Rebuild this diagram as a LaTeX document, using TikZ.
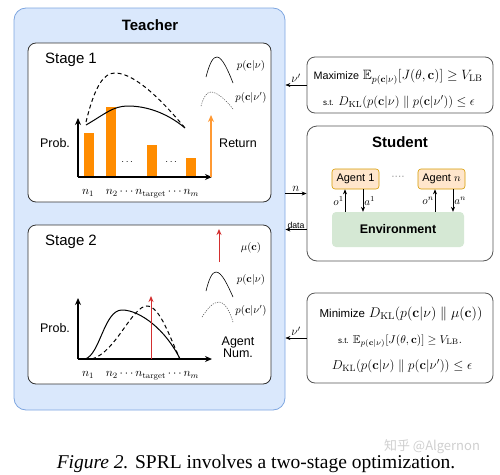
\RequirePackage{fix-cm}
\documentclass[tikz,border=0pt]{standalone}
\usepackage{amsmath,amssymb}
\usepackage[no-math]{fontspec}
\setmainfont{Liberation Sans}
\newfontfamily\capfont{Liberation Serif}
\newfontfamily\cjk{Noto Sans CJK SC}
\usepackage{xcolor}
\usepackage{tikz}
\usetikzlibrary{arrows.meta}
\definecolor{teachbg}{HTML}{DAE8FC}
\definecolor{teachline}{HTML}{7EA6E0}
\definecolor{stageline}{HTML}{333333}
\definecolor{boxline}{HTML}{555555}
\definecolor{barfill}{HTML}{FF8C00}
\definecolor{retline}{HTML}{FF9933}
\definecolor{mured}{HTML}{D32F2F}
\definecolor{agentbg}{HTML}{FFE6CC}
\definecolor{agentline}{HTML}{D79B00}
\definecolor{envbg}{HTML}{D5E8D4}
\definecolor{wmark}{HTML}{CFCFCF}
\tikzset{
  teach/.style={draw=teachline, fill=teachbg, line width=0.8pt, rounded corners=12pt},
  stagebox/.style={draw=stageline, fill=white, line width=0.8pt, rounded corners=8pt, minimum width=243pt, minimum height=159pt},
  cons/.style={draw=boxline, fill=white, line width=0.8pt, rounded corners=8pt, minimum width=186pt},
  agent/.style={draw=agentline, fill=agentbg, line width=0.6pt, rounded corners=3pt, minimum width=47pt, minimum height=20pt, inner sep=0pt, font=\fontsize{11}{13}\selectfont},
  env/.style={fill=envbg, rounded corners=4pt, minimum width=132pt, minimum height=35pt, font=\bfseries\fontsize{12.5}{14}\selectfont},
  axis/.style={draw=black, line width=1.4pt, -{Stealth[length=7pt,width=6pt]}},
  curve/.style={draw=black, line width=1pt},
  dcurve/.style={curve, dash pattern=on 4pt off 3pt},
  lcurve/.style={draw=black, line width=0.6pt},
  ldot/.style={draw=black!70, line width=0.5pt, dash pattern=on 1.2pt off 1.2pt},
  orangebar/.style={fill=barfill},
  retarrow/.style={draw=retline, line width=1.2pt, -{Stealth[length=7pt,width=6pt]}},
  muarrow/.style={draw=mured, line width=1pt, -{Stealth[length=6pt,width=5pt]}},
  link/.style={draw=black, line width=0.6pt, -{Stealth[length=5pt,width=4pt]}},
  title/.style={font=\bfseries\fontsize{15}{17}\selectfont},
  stagelab/.style={font=\fontsize{15}{17}\selectfont},
  lab/.style={font=\fontsize{12.5}{14}\selectfont},
  labm/.style={font=\fontsize{10.7}{12}\selectfont},
  xlab/.style={font=\fontsize{11.8}{13}\selectfont},
  arlab/.style={font=\fontsize{11}{12}\selectfont, inner sep=1pt},
  linklab/.style={font=\fontsize{12}{13}\selectfont, above, inner sep=2pt},
}
\newcommand{\pc}[1]{p(\mathbf{c}|#1)}
\newcommand{\txt}[2]{{\fontsize{#1}{#1}\selectfont #2}}

\begin{document}
\begin{tikzpicture}[x=1pt, y=-1pt]
  \useasboundingbox (0,0) rectangle (500,474);
  % teacher side
  \node[teach, minimum width=271pt, minimum height=402pt] (teacher) at (149.5,209) {};
  \node[title] (teachtitle) at (150,25) {Teacher};
  \node[stagebox] (stage1) at (149.5,122.5) {};
  \node[stagebox] (stage2) at (149.5,304.5) {};
  \node[stagelab] at (71,60) {Stage 1};
  \node[stagelab] at (71,242) {Stage 2};

  % stage 1
  \foreach \x/\h in {84/133, 106/107, 147/145, 186/158}
    \fill[orangebar] (\x,177) rectangle (\x+9.5,\h);
  \coordinate (o1) at (78,177);
  \draw[axis] (o1) -- ++(0,-59);
  \draw[axis] (o1) -- ++(134,0);
  \draw[retarrow] (211,177) -- (211,115);
  \draw[curve] (86,125) .. controls (105,114) and (113,106) .. (128,106) .. controls (145,106) and (166,112) .. (185,128);
  \draw[dcurve] (86,122) .. controls (95,85) and (104,73) .. (115,73) .. controls (136,73) and (165,104) .. (185,128);
  \node at (128,162) {$\cdots$};
  \node at (172,162) {$\cdots$};
  \node[lab] at (55,143) {Prob.};
  \node[lab] at (238,143) {Return};
  \node[xlab] at (140.5,194) {$n_1\quad n_2\cdots n_{\mathrm{target}}\cdots n_m$};
  \draw[lcurve] (206,77) .. controls (210,62) and (213,57) .. (217,57) .. controls (222,57) and (228,70) .. (233,83);
  \draw[ldot] (201,106) .. controls (204,96) and (207,92) .. (211,92) .. controls (217,92) and (226,100) .. (233,109);
  \node[labm] at (251,66) {$\pc{\nu}$};
  \node[labm] at (251,98) {$\pc{\nu'}$};

  % stage 2
  \coordinate (o2) at (78,359);
  \draw[axis] (o2) -- ++(0,-61);
  \draw[axis] (o2) -- ++(134,0);
  \draw[curve] (85,359) .. controls (100,355) and (104,310) .. (122,310) .. controls (140,310) and (166,330) .. (180,359);
  \draw[dcurve] (92,359) .. controls (116,352) and (132,306) .. (147,306) .. controls (160,306) and (170,338) .. (180,359);
  \draw[muarrow] (151,359) -- (151,296);
  \node[lab] at (55,328) {Prob.};
  \node[lab, align=center] at (238,347) {Agent\\[-2pt]Num.};
  \node[xlab] at (140.5,376) {$n_1\quad n_2\cdots n_{\mathrm{target}}\cdots n_m$};
  \draw[muarrow] (219,262) -- (219,229);
  \draw[lcurve] (206,291) .. controls (209,279) and (212,272) .. (216,272) .. controls (222,272) and (228,286) .. (233,297);
  \draw[ldot] (202,317) .. controls (208,308) and (213,302) .. (219,302) .. controls (225,302) and (230,312) .. (233,322);
  \node[labm] at (251,248) {$\mu(\mathbf{c})$};
  \node[labm] at (251,280) {$\pc{\nu}$};
  \node[labm] at (251,311) {$\pc{\nu'}$};

  % right side
  \node[cons, minimum height=56pt] (maxbox) at (400,85) {};
  \node[font=\fontsize{13.5}{15}\selectfont] at (398,77) {\txt{10.8}{Maximize} $\mathbb{E}_{\pc{\nu}}[J(\theta,\mathbf{c})]\geq V_{\mathrm{LB}}$};
  \node[font=\fontsize{12.6}{14}\selectfont] at (399,102) {\txt{8}{s.t.} $D_{\mathrm{KL}}(\pc{\nu}\parallel \pc{\nu'})\leq\epsilon$};

  \node[cons, minimum height=135pt, rounded corners=10pt] (student) at (400,193.5) {};
  \node[title] at (400,142) {Student};
  \node[agent] (agent1) at (355.5,179) {Agent 1};
  \node[agent] (agentn) at (441.5,179) {Agent $n$};
  \node[text=black!50, font=\fontsize{10}{12}\selectfont] at (398,178) {····};
  \node[env] (env) at (398,229.5) {Environment};
  \draw[link] ([xshift=-10.5pt]agent1.south |- env.north) -- node[arlab, left] {$o^1$} ([xshift=-10.5pt]agent1.south);
  \draw[link] ([xshift=7.5pt]agent1.south) -- node[arlab, right] {$a^1$} ([xshift=7.5pt]agent1.south |- env.north);
  \draw[link] ([xshift=-6.5pt]agentn.south |- env.north) -- node[arlab, left] {$o^n$} ([xshift=-6.5pt]agentn.south);
  \draw[link] ([xshift=11.5pt]agentn.south) -- node[arlab, right] {$a^n$} ([xshift=11.5pt]agentn.south |- env.north);

  \node[cons, minimum height=90pt] (minbox) at (400,338) {};
  \node[font=\fontsize{14}{15}\selectfont] at (401,314) {\txt{11.5}{Minimize} $D_{\mathrm{KL}}(\pc{\nu}\parallel \mu(\mathbf{c}))$};
  \node[font=\fontsize{11.4}{13}\selectfont] at (400,341) {\txt{8}{s.t.} $\mathbb{E}_{\pc{\nu}}[J(\theta,\mathbf{c})]\geq V_{\mathrm{LB}}.$};
  \node[font=\fontsize{13}{14}\selectfont] at (402,366) {$D_{\mathrm{KL}}(\pc{\nu}\parallel \pc{\nu'})\leq\epsilon$};

  % connectors
  \draw[link] (maxbox.west) -- node[linklab] {$\nu'$} (maxbox.west -| teacher.east);
  \draw[link] (student.west -| teacher.east) -- node[linklab] {$n$} (student.west);
  \draw[link] (env.west -| student.west) -- node[linklab, font=\fontsize{8.7}{10}\selectfont, inner sep=1pt] {data} (env.west -| teacher.east);
  \draw[link] (minbox.west) -- node[linklab] {$\nu'$} (minbox.west -| teacher.east);

  \node[text=wmark, font=\cjk\fontsize{13}{14}\selectfont, inner sep=0pt] (wm) at (432,447) {知乎 @Algernon};
  \node[font=\capfont\fontsize{19.5}{22}\selectfont, anchor=base, inner sep=0pt] (caption) at (256,468) {\textit{Figure 2.} SPRL involves a two-stage optimization.};
\end{tikzpicture}
\end{document}
